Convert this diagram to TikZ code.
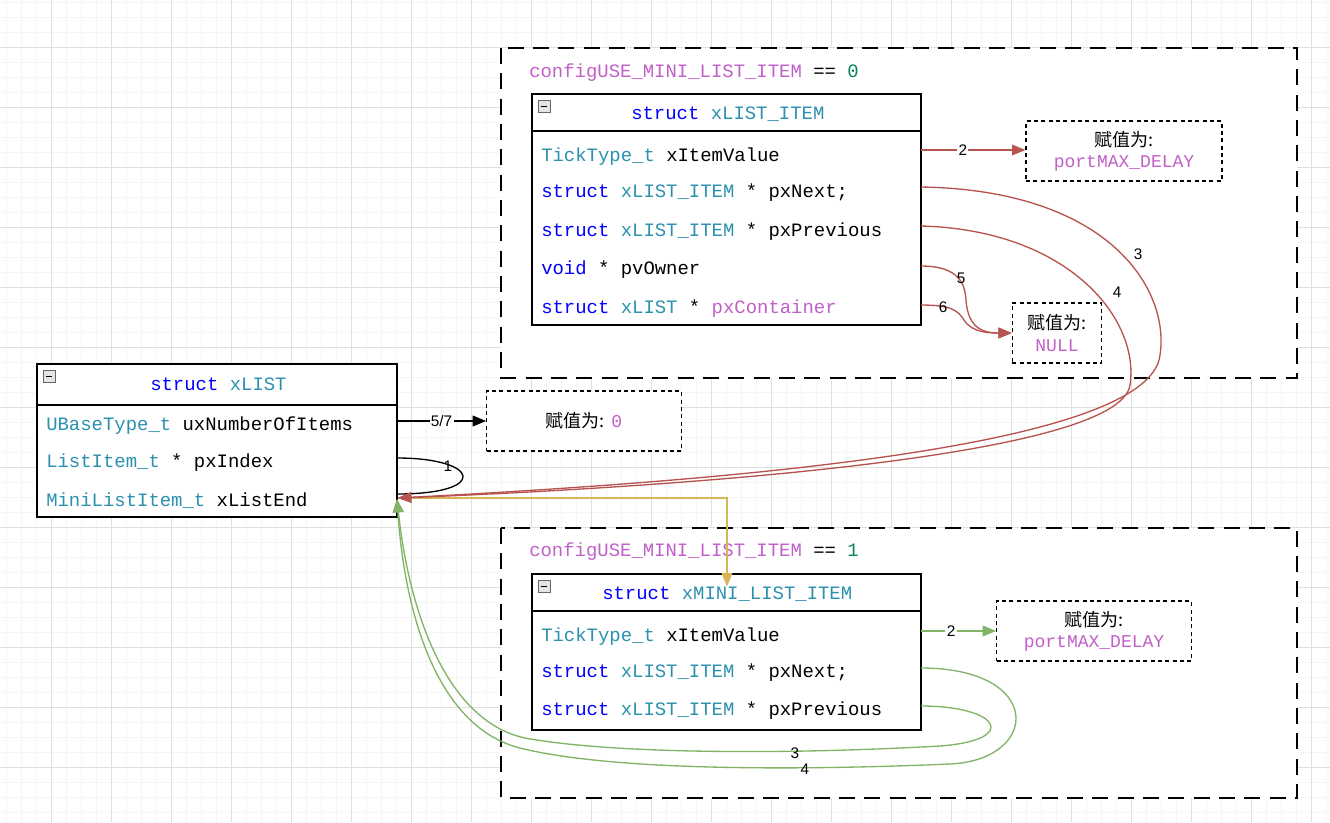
\documentclass[tikz,border=0pt]{standalone}
\usepackage{fontspec}
\setmainfont{Liberation Sans}
\setmonofont{Liberation Mono}
\newfontfamily\cjk{Noto Sans CJK SC}
\usetikzlibrary{arrows.meta}
\definecolor{kw}{HTML}{0000FF}
\definecolor{ty}{HTML}{2B91AF}
\definecolor{mg}{HTML}{C160C8}
\definecolor{nm}{HTML}{098658}
\definecolor{rd}{HTML}{B85450}
\definecolor{gn}{HTML}{82B366}
\definecolor{yl}{HTML}{D6B656}
\newcommand{\K}[1]{\textcolor{kw}{#1}}
\newcommand{\T}[1]{\textcolor{ty}{#1}}
\newcommand{\M}[1]{\textcolor{mg}{#1}}
\begin{document}
\begin{tikzpicture}[x=0.75pt,y=-0.75pt,
  code/.style={anchor=west,inner sep=0pt,font=\ttfamily\fontsize{14.2}{16}\selectfont},
  cn/.style={draw=black,line width=1.2pt,dash pattern=on 12pt off 7pt,fill=white},
  vb/.style={draw=black,line width=0.9pt,dash pattern=on 3pt off 2.5pt,fill=white,align=center,font=\fontsize{13.5}{18}\selectfont},
  sb/.style={draw=black,line width=0.9pt,fill=white},
  lbl/.style={fill=white,inner sep=1pt,text=black,font=\fontsize{11.5}{12}\selectfont},
  tip/.style={-{Triangle[length=10pt,width=8pt]}},
  ra/.style={rd,line width=1pt,tip},
  ga/.style={gn,line width=1pt,tip}]
\useasboundingbox (0,0) rectangle (1330,822);
\fill[white] (0,0) rectangle (1330,822);
\foreach \x in {6,21,...,1330} \draw[black!4,line width=0.7pt] (\x,0) -- (\x,822);
\foreach \y in {2,17,...,822} \draw[black!4,line width=0.7pt] (0,\y) -- (1330,\y);
\foreach \x in {51,111,...,1330} \draw[black!12,line width=0.7pt] (\x,0) -- (\x,822);
\foreach \y in {47,107,...,822} \draw[black!12,line width=0.7pt] (0,\y) -- (1330,\y);
% containers
\path[cn] (501,48) rectangle (1297,378);
\path[cn] (501,528) rectangle (1297,798);
\node[code] (c0) at (529,73) {\M{configUSE\_MINI\_LIST\_ITEM} == \textcolor{nm}{0}};
\node[code] (c1) at (529,552) {\M{configUSE\_MINI\_LIST\_ITEM} == \textcolor{nm}{1}};
% xLIST
\path[sb] (37,364) rectangle (397,517);
\draw[line width=0.9pt] (37,405) -- (397,405);
\draw[black!60,fill=black!10] (43,370) rectangle (55,382); \draw (46,376) -- (52,376);
\node[code] (lh) at (150,384) {\K{struct} \T{xLIST}};
\node[code] (l1) at (46,426) {\T{UBaseType\_t} uxNumberOfItems};
\node[code] (l2) at (46,463) {\T{ListItem\_t} * pxIndex};
\node[code] (l3) at (46,501) {\T{MiniListItem\_t} xListEnd};
% xLIST_ITEM
\path[sb] (532,94) rectangle (921,325);
\draw[line width=0.9pt] (532,131) -- (921,131);
\draw[black!60,fill=black!10] (538,100) rectangle (550,112); \draw (541,106) -- (547,106);
\node[code] (ih) at (631,114) {\K{struct} \T{xLIST\_ITEM}};
\node[code] (i1) at (541,157) {\T{TickType\_t} xItemValue};
\node[code] (i2) at (541,193) {\K{struct} \T{xLIST\_ITEM} * pxNext;};
\node[code] (i3) at (541,232) {\K{struct} \T{xLIST\_ITEM} * pxPrevious};
\node[code] (i4) at (541,270) {\K{void} * pvOwner};
\node[code] (i5) at (541,309) {\K{struct} \T{xLIST} * \M{pxContainer}};
% xMINI
\path[sb] (532,574) rectangle (921,730);
\draw[line width=0.9pt] (532,611) -- (921,611);
\draw[black!60,fill=black!10] (538,580) rectangle (550,592); \draw (541,586) -- (547,586);
\node[code] (mh) at (602,594) {\K{struct} \T{xMINI\_LIST\_ITEM}};
\node[code] (m1) at (541,637) {\T{TickType\_t} xItemValue};
\node[code] (m2) at (541,673) {\K{struct} \T{xLIST\_ITEM} * pxNext;};
\node[code] (m3) at (541,711) {\K{struct} \T{xLIST\_ITEM} * pxPrevious};
% value boxes
\node[vb,minimum width=147pt,minimum height=45pt] (pd1) at (1124,151) {{\cjk 赋值为:}\\[-2pt]\ttfamily\M{portMAX\_DELAY}};
\node[vb,minimum width=67pt,minimum height=45pt] (nul) at (1057,333) {{\cjk 赋值为:}\\[-2pt]\ttfamily\M{NULL}};
\node[vb,minimum width=146pt,minimum height=45pt] (zer) at (584,421) {{\cjk 赋值为:} \ttfamily\M{0}};
\node[vb,minimum width=146pt,minimum height=45pt] (pd2) at (1094,631) {{\cjk 赋值为:}\\[-2pt]\ttfamily\M{portMAX\_DELAY}};
% anchor coordinates
\coordinate (e1) at (921,150); \coordinate (e2) at (921,187); \coordinate (e3) at (921,226);
\coordinate (e4) at (921,266); \coordinate (e5) at (921,305);
\coordinate (g1) at (921,631); \coordinate (g2) at (921,668); \coordinate (g3) at (921,706);
\coordinate (L1) at (397,421); \coordinate (L2) at (397,458); \coordinate (L3) at (397,494);
\coordinate (LE) at (398,498); \coordinate (LB) at (397,499);
% yellow
\draw[yl,line width=1pt,tip] (LE) -| (mh.north -| 727,574);
% black
\draw[line width=1pt,tip] (L1) -- node[lbl]{5/7} (zer.west);
\draw[line width=1pt] (L2) .. controls (480,458) and (490,494) .. (L3);
\node[lbl,fill=none] at (448,466) {1};
% red
\draw[ra] (e1) -- node[lbl,pos=0.4]{2} (pd1.west |- e1);
\draw[ra] (e2) .. controls (1110,190) and (1170,290) .. (1160,355) .. controls (1150,450) and (700,482) .. (LE);
\draw[ra] (e3) .. controls (1070,230) and (1140,320) .. (1130,385) .. controls (1120,455) and (700,486) .. (LE);
\node[lbl] at (1138,254) {3};
\node[lbl] at (1117,292) {4};
\draw[ra] (e4) .. controls (960,266) and (965,285) .. (966,300) .. controls (968,330) and (985,333) .. (nul.west);
\draw[ra] (e5) .. controls (950,305) and (958,310) .. (964,320) .. controls (972,333) and (990,333) .. (nul.west);
\node[lbl,fill=none] at (961,278) {5};
\node[lbl,fill=none] at (943,307) {6};
% green
\draw[ga] (g1) -- node[lbl,pos=0.4]{2} (pd2.west |- g1);
\draw[ga] (g2) .. controls (1045,668) and (1040,760) .. (950,764) .. controls (760,772) and (600,768) .. (520,748) .. controls (440,728) and (405,620) .. (LB);
\draw[ga] (g3) .. controls (1000,706) and (1020,740) .. (940,746) .. controls (760,756) and (600,752) .. (525,738) .. controls (450,722) and (410,620) .. (LB);
\node[lbl,fill=none] at (795,753) {3};
\node[lbl,fill=none] at (805,769) {4};
\end{tikzpicture}
\end{document}
